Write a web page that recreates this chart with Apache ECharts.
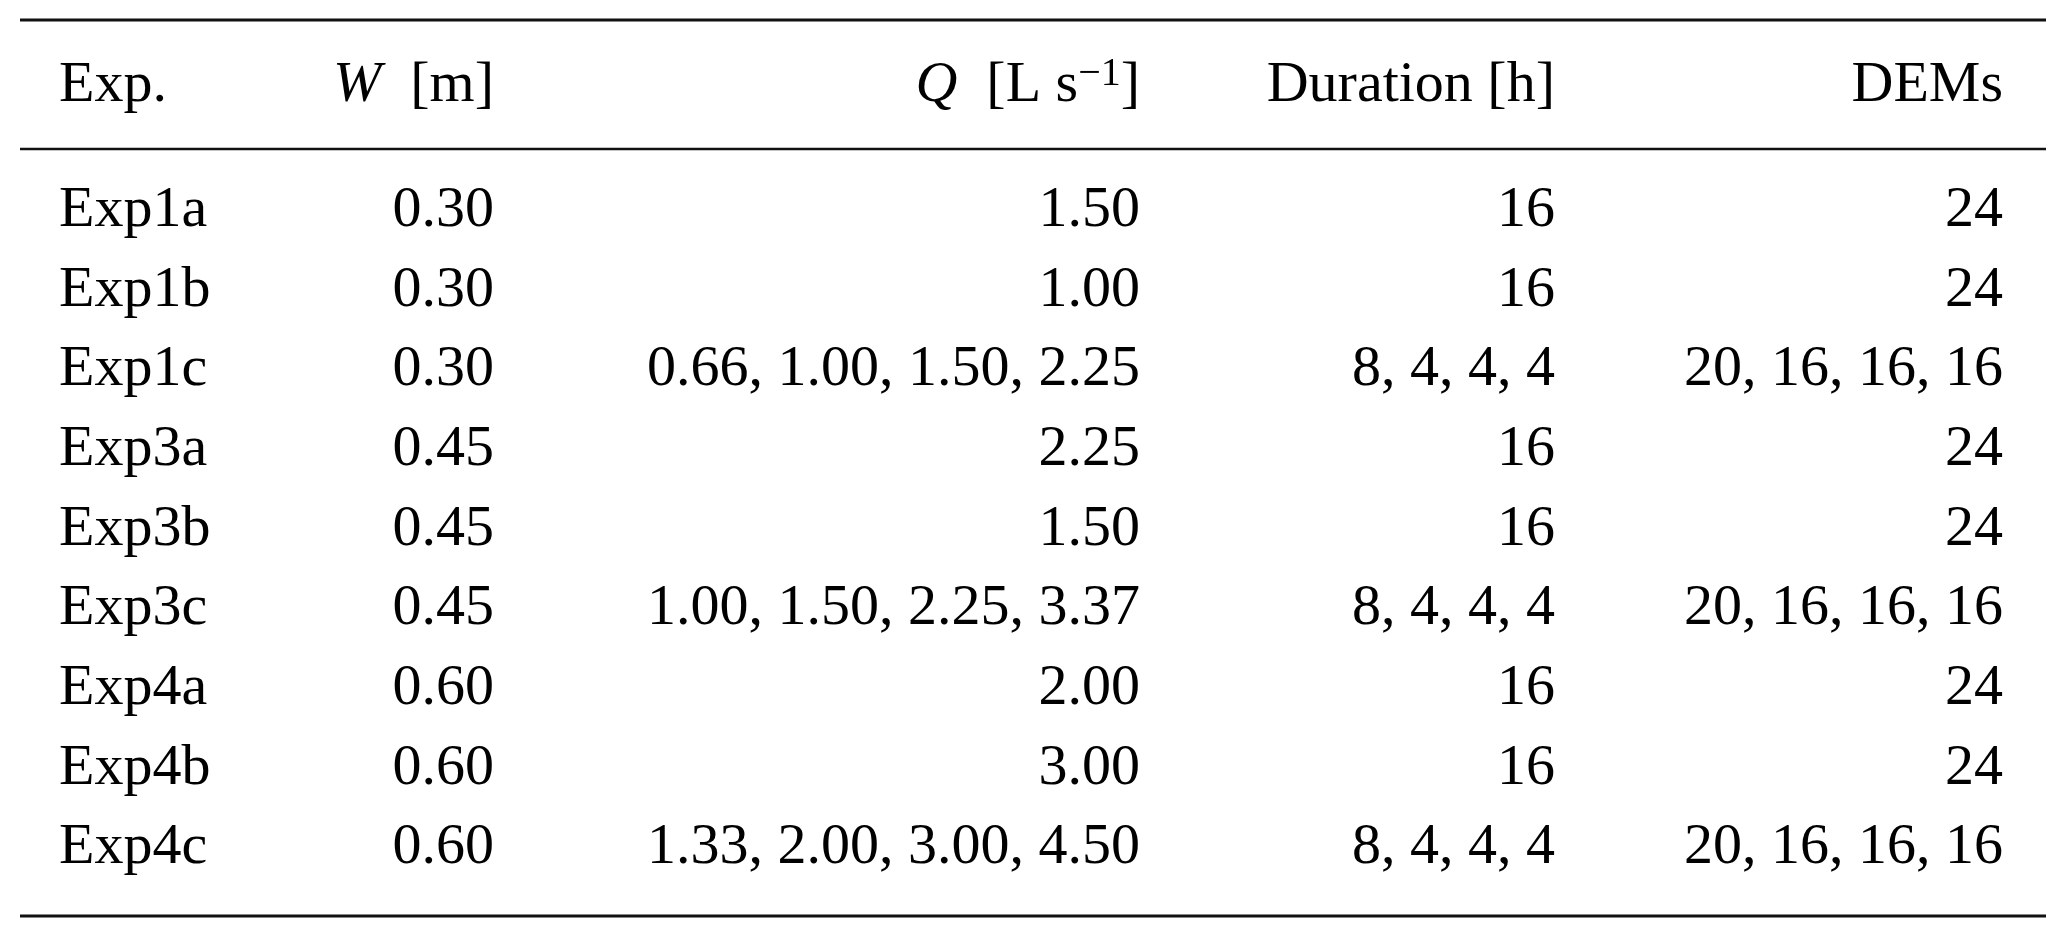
<!DOCTYPE html>
<html><head><meta charset="utf-8">
<script src="https://cdn.jsdelivr.net/npm/echarts@6/dist/echarts.min.js"></script>
<style>html,body{margin:0;padding:0;background:#fff}#c{width:2067px;height:936px}</style>
</head><body><div id="c"></div>
<script>
const experiments = ['Exp1a','Exp1b','Exp1c','Exp3a','Exp3b','Exp3c','Exp4a','Exp4b','Exp4c'];
const widths = ['0.30','0.30','0.30','0.45','0.45','0.45','0.60','0.60','0.60'];
const discharges = ['1.50','1.00','0.66, 1.00, 1.50, 2.25','2.25','1.50','1.00, 1.50, 2.25, 3.37','2.00','3.00','1.33, 2.00, 3.00, 4.50'];
const durations = ['16','16','8, 4, 4, 4','16','16','8, 4, 4, 4','16','16','8, 4, 4, 4'];
const dems = ['24','24','20, 16, 16, 16','24','24','20, 16, 16, 16','24','24','20, 16, 16, 16'];

const FONT = 'Liberation Serif';
const FS = 58;
const cols = [
  {vals: experiments, x: 59, align: 'left'},
  {vals: widths, x: 494, align: 'right'},
  {vals: discharges, x: 1140, align: 'right'},
  {vals: durations, x: 1555, align: 'right'},
  {vals: dems, x: 2003, align: 'right'}
];
const series = cols.map(c => ({
  type: 'scatter', symbolSize: 0, silent: true,
  itemStyle: {opacity: 1},
  data: c.vals.map((v, i) => ({value: [c.x, experiments[i]], txt: v})),
  label: {show: true, position: 'inside', align: c.align, verticalAlign: 'middle', opacity: 1,
    formatter: p => p.data.txt, color: '#000', fontFamily: FONT, fontSize: FS}
}));
const chart = echarts.init(document.getElementById('c'));
const rule = (y, w) => ({type: 'line', shape: {x1: 20, y1: y, x2: 2046, y2: y}, style: {stroke: '#111', lineWidth: w}});
const hdr = (x, text, align, rich) => ({type: 'text', x: x, y: 86,
  style: {text: text, align: align, verticalAlign: 'middle', fontFamily: FONT, fontSize: FS, fill: '#000', rich: rich}});
const baseRich = {i: {fontFamily: FONT, fontSize: FS, fontStyle: 'italic', fill: '#000'},
  n: {fontFamily: FONT, fontSize: FS, fill: '#000'},
  sup: {fontFamily: FONT, fontSize: 40, fill: '#000', verticalAlign: 'top', padding: [0,0,24,0]}};
chart.setOption({
  animation: false,
  grid: {left: 0, right: 0, top: 171, bottom: 48},
  xAxis: {type: 'value', min: 0, max: 2067, show: false},
  yAxis: {type: 'category', data: experiments, inverse: true, show: false},
  series: series,
  graphic: [
    rule(20, 3), rule(149, 2.5), rule(916, 3),
    hdr(59, 'Exp.', 'left'),
    hdr(494, '{i|W}{n|  [m]}', 'right', baseRich),
    hdr(1140, '{i|Q}{n|  [L s}{sup|−1}{n|]}', 'right', baseRich),
    hdr(1555, 'Duration [h]', 'right'),
    hdr(2003, 'DEMs', 'right')
  ]
});
</script></body></html>
